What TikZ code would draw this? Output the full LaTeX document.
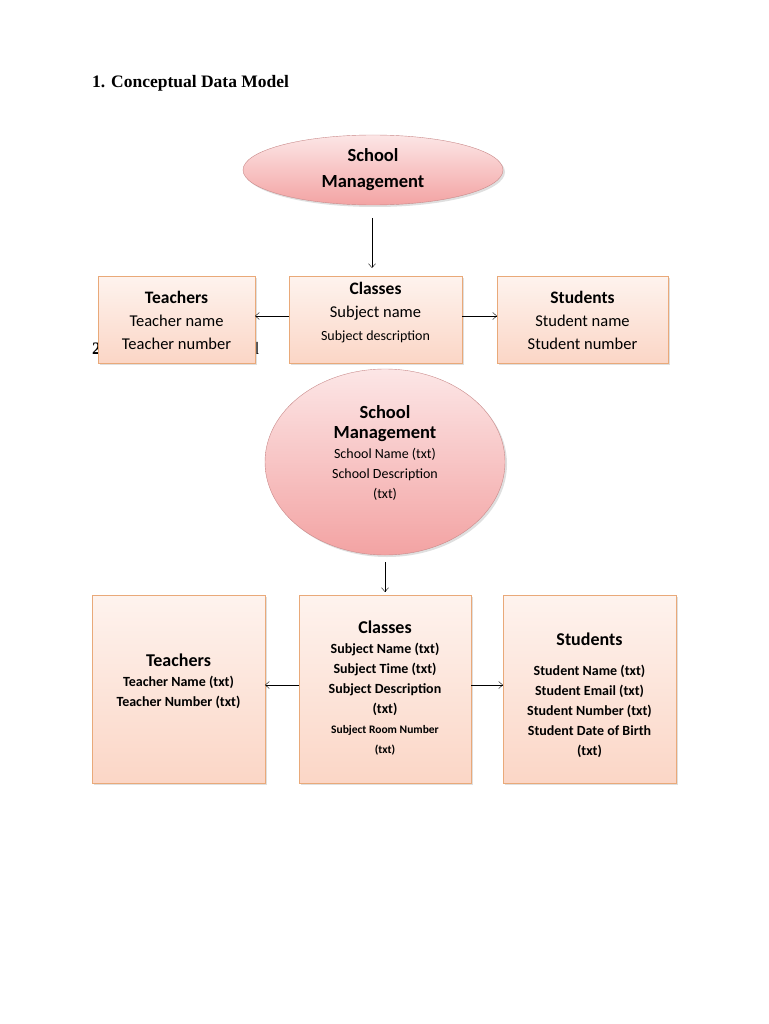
\documentclass[tikz,border=0pt]{standalone}
\usepackage{fontspec}
\setmainfont{Carlito}
\newfontfamily\serifh{Liberation Serif}
\usetikzlibrary{shadows,arrows.meta}
\definecolor{ellTop}{HTML}{FCE6E6}
\definecolor{ellBot}{HTML}{F3A3A3}
\definecolor{ellBd}{HTML}{C98A8A}
\definecolor{boxTop}{HTML}{FEF3EE}
\definecolor{boxBot}{HTML}{FBD6C6}
\definecolor{boxBd}{HTML}{E9A979}
\begin{document}
\begin{tikzpicture}[x=1pt,y=-1pt,
  ell/.style={draw=ellBd,top color=ellTop,bottom color=ellBot,drop shadow={shadow xshift=2pt,shadow yshift=-2pt,fill=black!25}},
  ent/.style={draw=boxBd,top color=boxTop,bottom color=boxBot,drop shadow={shadow xshift=2pt,shadow yshift=-2pt,fill=black!25}},
  con/.style={-{Straight Barb[length=4pt,width=7pt]},thin},
  hd/.style={anchor=west,inner sep=0pt,font=\serifh\bfseries\fontsize{17.5}{20}\selectfont}]
\useasboundingbox (0,0) rectangle (768,1024);
\node[hd] (h1) at (92,83) {1. Conceptual Data Model};
\node[hd] (h2) at (92,350) {2. Logical Data Model};
% row 1
\path[ell] (373,170) ellipse [x radius=130,y radius=35];
\node[align=center,font=\bfseries\fontsize{18.5}{26}\selectfont] (sm1) at (373,170) {School\\Management};
\coordinate (e1b) at (372,218);
\path[ent] (98,276) rectangle (255,363);
\path[ent] (289,276) rectangle (462,363);
\path[ent] (497,276) rectangle (668,363);
\node[align=center,font=\fontsize{16.5}{23}\selectfont] (t1) at (176.5,320) {\textbf{\fontsize{17.5}{23}\selectfont Teachers}\\Teacher name\\Teacher number};
\node[align=center,font=\fontsize{16.5}{23}\selectfont] (c1) at (375.5,313) {\textbf{\fontsize{17.5}{23}\selectfont Classes}\\Subject name\\{\fontsize{14}{20}\selectfont Subject description}};
\node[align=center,font=\fontsize{16.5}{23}\selectfont] (s1) at (582.5,320) {\textbf{\fontsize{17.5}{23}\selectfont Students}\\Student name\\Student number};
\coordinate (c1t) at (372,268);
\coordinate (c1l) at (289,316); \coordinate (t1r) at (255,316);
\coordinate (c1r) at (462,316); \coordinate (s1l) at (497,316);
\draw[con] (e1b) -- (c1t);
\draw[con] (c1l) -- (t1r);
\draw[con] (c1r) -- (s1l);
% row 2
\path[ell] (385,462) ellipse [x radius=120,y radius=93];
\node[align=center,font=\fontsize{14}{20}\selectfont] (sm2) at (385,453) {\textbf{\fontsize{18.5}{26}\selectfont School}\\\textbf{\fontsize{18.5}{26}\selectfont Management}\\School Name (txt)\\School Description\\(txt)};
\coordinate (e2b) at (385,562); \coordinate (c2t) at (385,592);
\path[ent] (92,595) rectangle (265,783);
\path[ent] (299,595) rectangle (471,783);
\path[ent] (503,595) rectangle (676,783);
\node[align=center,font=\bfseries\fontsize{14}{20}\selectfont] (t2) at (178.5,681) {{\fontsize{18}{24}\selectfont Teachers}\\Teacher Name (txt)\\Teacher Number (txt)};
\node[align=center,font=\bfseries\fontsize{14}{20}\selectfont] (c2) at (385,688) {{\fontsize{18}{24}\selectfont Classes}\\Subject Name (txt)\\Subject Time (txt)\\Subject Description\\(txt)\\{\fontsize{11.5}{17}\selectfont Subject Room Number}\\{\fontsize{11.5}{17}\selectfont (txt)}};
\node[align=center,font=\bfseries\fontsize{14}{20}\selectfont] (s2) at (589.5,695) {{\fontsize{18}{24}\selectfont Students}\\[10pt]Student Name (txt)\\Student Email (txt)\\Student Number (txt)\\Student Date of Birth\\(txt)};
\coordinate (c2l) at (299,685); \coordinate (t2r) at (265,685);
\coordinate (c2r) at (471,685); \coordinate (s2l) at (503,685);
\draw[con] (e2b) -- (c2t);
\draw[con] (c2l) -- (t2r);
\draw[con] (c2r) -- (s2l);
\end{tikzpicture}
\end{document}
